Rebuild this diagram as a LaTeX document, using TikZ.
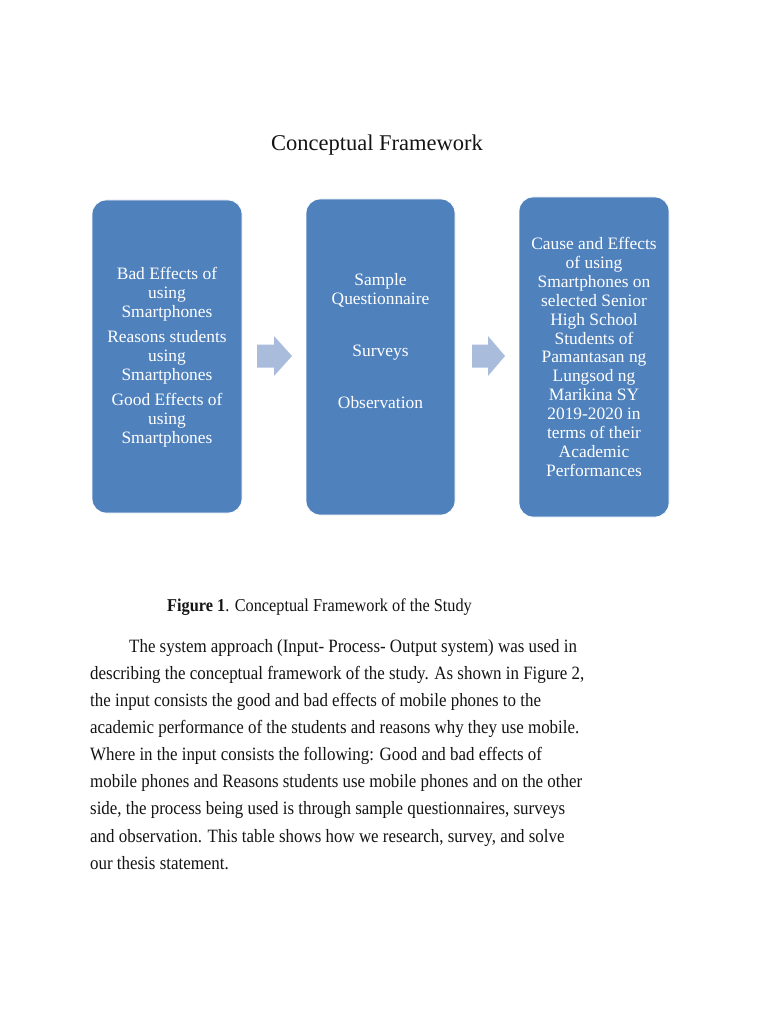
\documentclass[tikz,border=0pt]{standalone}
\usepackage{fontspec}
\setmainfont{Liberation Serif}
\newfontfamily\bodyfont[FakeStretch=0.9]{Liberation Serif}
\definecolor{boxblue}{RGB}{79,129,189}
\definecolor{arrowblue}{RGB}{170,188,220}
\definecolor{inktext}{RGB}{20,20,20}
\begin{document}
\begin{tikzpicture}[x=1pt,y=-1pt,
  stagebox/.style={fill=boxblue,draw=white,line width=0.8pt,rounded corners=14pt},
  boxtext/.style={anchor=base,inner sep=0pt,text=white,font=\fontsize{17.4}{18.9}\selectfont},
  bodytext/.style={anchor=base west,inner sep=0pt,text=inktext,font=\bodyfont\fontsize{18.8}{27.1}\selectfont},
  captext/.style={anchor=base west,inner sep=0pt,text=inktext,font=\bodyfont\fontsize{18.1}{27.1}\selectfont},
  blockarrow/.style={fill=arrowblue}
]
\useasboundingbox (0,0) rectangle (768,1024);
\fill[white] (0,0) rectangle (768,1024);

% title
\node[anchor=base,inner sep=0pt,text=inktext,font=\fontsize{22.5}{26}\selectfont] (title) at (377,150.5) {Conceptual Framework};

% boxes
\draw[stagebox] (92,200) rectangle (242,513);
\coordinate (box1) at (167,356.5);
\draw[stagebox] (306,199) rectangle (455,515);
\coordinate (box2) at (380.5,357);
\draw[stagebox] (519,197) rectangle (669,517);
\coordinate (box3) at (594,357);

% box 1 text
\node[boxtext] (b1a) at (167,279) {Bad Effects of};
\node[boxtext] (b1b) at (167,298) {using};
\node[boxtext] (b1c) at (167,317) {Smartphones};
\node[boxtext] (b1d) at (167,342) {Reasons students};
\node[boxtext] (b1e) at (167,361) {using};
\node[boxtext] (b1f) at (167,380) {Smartphones};
\node[boxtext] (b1g) at (167,405) {Good Effects of};
\node[boxtext] (b1h) at (167,424) {using};
\node[boxtext] (b1i) at (167,443) {Smartphones};

% box 2 text
\node[boxtext] (b2a) at (380.5,285) {Sample};
\node[boxtext] (b2b) at (380.5,304) {Questionnaire};
\node[boxtext] (b2c) at (380.5,356) {Surveys};
\node[boxtext] (b2d) at (380.5,408) {Observation};

% box 3 text
\foreach \t [count=\i from 0] in {Cause and Effects,of using,Smartphones on,selected Senior,High School,Students of,Pamantasan ng,Lungsod ng,Marikina SY,2019-2020 in,terms of their,Academic,Performances}{
  \node[boxtext] (b3-\i) at (594,249.5+18.9*\i) {\t};
}

% block arrows
\coordinate (a1) at (274,356);
\fill[blockarrow] (a1) ++(-17,-11.5) -- ++(17,0) -- ++(0,-8.5) -- ++(18,20) -- ++(-18,20) -- ++(0,-8.5) -- ++(-17,0) -- cycle;
\coordinate (a2) at (488,356);
\fill[blockarrow] (a2) ++(-16,-11.5) -- ++(16,0) -- ++(0,-8.5) -- ++(17,20) -- ++(-17,20) -- ++(0,-8.5) -- ++(-16,0) -- cycle;

% caption
\node[captext] (cap) at (167,611) {\textbf{Figure 1}. Conceptual Framework of the Study};

% body paragraph
\node[bodytext] (p1) at (129,652.3) {The system approach (Input- Process- Output system) was used in};
\node[bodytext] (p2) at (90,679.4) {describing the conceptual framework of the study. As shown in Figure 2,};
\node[bodytext] (p3) at (90,706.5) {the input consists the good and bad effects of mobile phones to the};
\node[bodytext] (p4) at (90,733.6) {academic performance of the students and reasons why they use mobile.};
\node[bodytext] (p5) at (90,760.7) {Where in the input consists the following: Good and bad effects of};
\node[bodytext] (p6) at (90,787.8) {mobile phones and Reasons students use mobile phones and on the other};
\node[bodytext] (p7) at (90,814.9) {side, the process being used is through sample questionnaires, surveys};
\node[bodytext] (p8) at (90,842.0) {and observation. This table shows how we research, survey, and solve};
\node[bodytext] (p9) at (90,869.1) {our thesis statement.};
\end{tikzpicture}
\end{document}
